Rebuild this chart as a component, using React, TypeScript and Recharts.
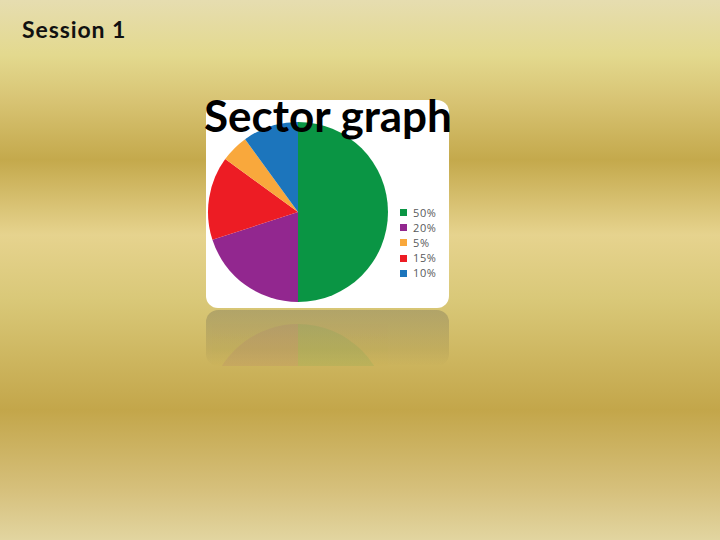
import { PieChart, Pie, Cell, Legend } from 'recharts'

const SLICE_LABELS = ['50%', '20%', '15%', '5%', '10%']
const SLICE_VALUES = [50, 20, 15, 5, 10]
const SLICE_COLORS = ['#0a9544', '#92278f', '#ed1c24', '#f9a83c', '#1c75bc']
// legend lists the slices in a different order than they sit round the pie
const LEGEND_ORDER = [0, 1, 3, 2, 4]

const data = SLICE_LABELS.map((label, i) => ({ name: label, value: SLICE_VALUES[i] }))

const BG =
  'linear-gradient(to bottom, #e6ddb0 0px, #e3d98e 55px, #d8c474 100px, #c4a94c 160px, #e6d38e 235px, #d9c878 300px, #c3a64a 410px, #d6c07c 490px, #e2d5a0 540px)'

const SectorLegend = () => (
  <div style={{ fontFamily: '"Open Sans", sans-serif', fontSize: 11, letterSpacing: 0.6, color: '#58595b' }}>
    {LEGEND_ORDER.map(i => (
      <div key={i} style={{ display: 'flex', alignItems: 'center', height: 15.2, lineHeight: '14px' }}>
        <span style={{ display: 'inline-block', width: 7, height: 7, background: SLICE_COLORS[i], marginRight: 6 }} />
        {SLICE_LABELS[i]}
      </div>
    ))}
  </div>
)

function SectorPie({ legend }: { legend: boolean }) {
  return (
    <PieChart width={243} height={208} margin={{ top: 0, right: 0, bottom: 0, left: 0 }}>
      <Pie
        data={data}
        dataKey="value"
        cx={92}
        cy={112}
        outerRadius={90}
        startAngle={90}
        endAngle={-270}
        stroke="none"
        isAnimationActive={false}
      >
        {data.map((d, i) => (
          <Cell key={d.name} fill={SLICE_COLORS[i]} />
        ))}
      </Pie>
      {legend && (
        <Legend
          content={<SectorLegend />}
          wrapperStyle={{ position: 'absolute', left: 194, top: 105, width: 45 }}
        />
      )}
    </PieChart>
  )
}

export default function App() {
  return (
    <div style={{ position: 'fixed', left: 0, top: 0, width: 720, height: 540, background: BG, overflow: 'hidden' }}>
      <div
        style={{
          position: 'absolute', left: 22, top: 15, fontFamily: 'Lato, sans-serif', fontWeight: 700,
          fontSize: 23, letterSpacing: 0.9, color: '#111', whiteSpace: 'nowrap'
        }}
      >
        Session 1
      </div>

      {/* reflection */}
      <div
        style={{
          position: 'absolute', left: 206, top: 310, width: 243, height: 56, overflow: 'hidden',
          borderRadius: 12,
          background: 'linear-gradient(to bottom, rgba(110,105,85,0.36), rgba(140,125,70,0.2) 70%, rgba(160,140,60,0.0))'
        }}
      >
        <div style={{ transform: 'scaleY(-1)', transformOrigin: 'top left', position: 'absolute', top: 8, left: 0, opacity: 0.08 }}>
          <div style={{ position: 'absolute', top: -208, left: 0 }}>
            <SectorPie legend={false} />
          </div>
        </div>
      </div>

      <div style={{ position: 'absolute', left: 206, top: 100, width: 243, height: 208, background: '#fff', borderRadius: 12 }}>
        <SectorPie legend={true} />
      </div>

      <div
        style={{
          position: 'absolute', left: 204, top: 89, fontFamily: 'Lato, sans-serif', fontWeight: 700,
          fontSize: 44, color: '#000', whiteSpace: 'nowrap'
        }}
      >
        Sector graph
      </div>
    </div>
  )
}
